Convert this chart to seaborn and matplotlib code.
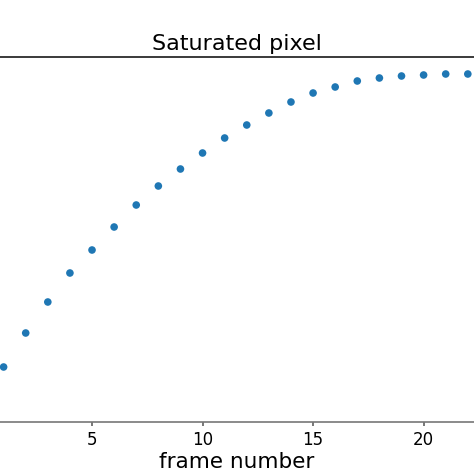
import matplotlib
matplotlib.use("Agg")
import matplotlib.pyplot as plt
import seaborn as sns

frames = list(range(1, 23))
intensity = [55, 89, 120, 149, 172, 195, 217, 236, 253, 269, 284, 297, 309,
             320, 329, 335, 341, 344, 346, 347, 348, 348]

sns.set_theme(style="white")
plt.rcParams["font.family"] = ["DejaVu Sans"]
plt.rcParams["text.color"] = "black"
plt.rcParams["xtick.color"] = "black"
plt.rcParams["axes.labelcolor"] = "black"

fig = plt.figure(figsize=(4.74, 4.74), dpi=100)
ax = fig.add_axes([0.0, 52 / 474, 1.0, 365 / 474])
sns.scatterplot(x=frames, y=intensity, ax=ax, color="#1f77b4", s=30, edgecolor="none")
ax.set_xlim(0.837, 22.28)
ax.set_ylim(0, 365)
ax.set_yticks([])
ax.set_xticks([5, 10, 15, 20])
ax.tick_params(axis="x", labelsize=12, length=3, bottom=True, color="#666666", labelcolor="black")
for side in ["left", "right"]:
    ax.spines[side].set_visible(False)
ax.spines["top"].set_color("#222222")
ax.spines["bottom"].set_color("#777777")
ax.spines["bottom"].set_linewidth(1.2)
ax.set_title("Saturated pixel", fontsize=16, pad=5, color="black")
ax.set_xlabel("frame number", fontsize=15.5, labelpad=2)
fig.savefig("out.png", dpi=100)
